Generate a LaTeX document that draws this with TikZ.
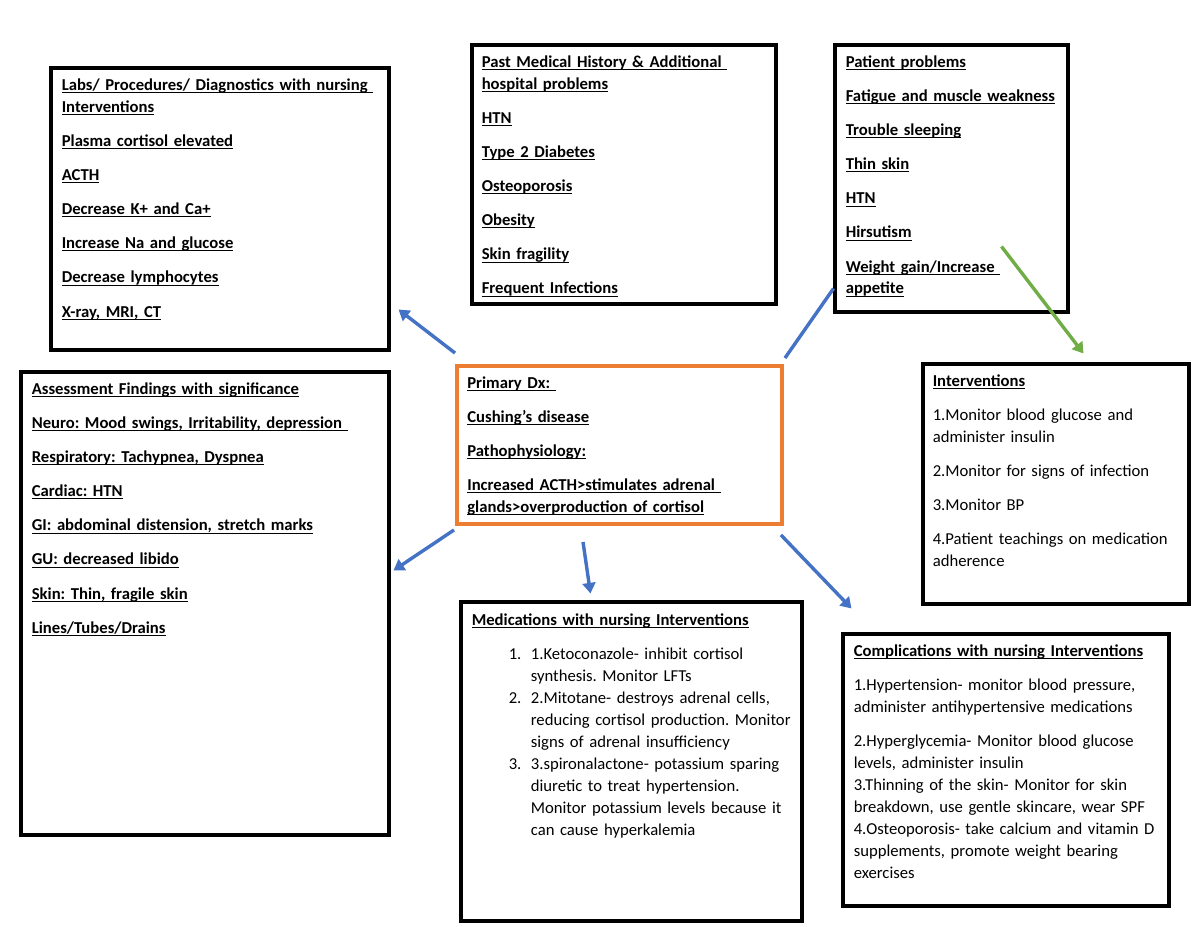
\documentclass[tikz,border=0pt]{standalone}
\usepackage{fontspec}
\setmainfont{Carlito}
\frenchspacing
\usetikzlibrary{arrows.meta,fit}
\definecolor{wordblue}{HTML}{4472C4}
\definecolor{wordgreen}{HTML}{70AD47}
\definecolor{wordorange}{HTML}{ED7D31}
\newcommand{\undl}[1]{\setbox0\hbox{#1}\leavevmode\rlap{\rule[-1.7pt]{\wd0}{0.6pt}}\box0}

\begin{document}
\begin{tikzpicture}[x=0.66pt,y=-0.66pt]

  \useasboundingbox (0,0) rectangle (1200,927);

  \begin{scope}[every node/.style={draw, line width=2pt, inner sep=0pt}]
    \node[fit={(51,68) (389,350)}]   (labs)    {};
    \node[fit={(472,45) (776,304)}]  (pmh)     {};
    \node[fit={(835,45) (1068,312)}] (patient) {};
    \node[fit={(21,372) (389,835)}]  (assess)  {};
    \node[fit={(457,366) (782,524)}, draw=wordorange, line width=2.6pt] (dx) {};
    \node[fit={(923,364) (1189,604)}] (interv) {};
    \node[fit={(461,602) (802,921)}]  (meds)   {};
    \node[fit={(843,634) (1169,906)}] (compl)  {};
  \end{scope}

  \begin{scope}[every node/.style={anchor=base west, inner sep=0pt,
      font=\fontsize{11}{14.5}\selectfont,
      execute at begin node={\setlength{\parskip}{8pt}}}]
    \node[text width=211pt] (labstxt) at ([shift={(12,24)}]labs.north west) {\bfseries
      \undl{Labs/ Procedures/ Diagnostics with nursing }\\\undl{Interventions}\par
      \undl{Plasma cortisol elevated}\par
      \undl{ACTH}\par
      \undl{Decrease K+ and Ca+}\par
      \undl{Increase Na and glucose}\par
      \undl{Decrease lymphocytes}\par
      \undl{X-ray, MRI, CT}};
    \node[text width=192pt] (pmhtxt) at ([shift={(11,24)}]pmh.north west) {\bfseries
      \undl{Past Medical History \& Additional }\\\undl{hospital problems}\par
      \undl{HTN}\par
      \undl{Type 2 Diabetes}\par
      \undl{Osteoporosis}\par
      \undl{Obesity}\par
      \undl{Skin fragility}\par
      \undl{Frequent Infections}};
    \node[text width=152pt] (patienttxt) at ([shift={(12,24)}]patient.north west) {\bfseries
      \undl{Patient problems}\par
      \undl{Fatigue and muscle weakness}\par
      \undl{Trouble sleeping}\par
      \undl{Thin skin}\par
      \undl{HTN}\par
      \undl{Hirsutism}\par
      \undl{Weight gain/Increase }\\\undl{appetite}};
    \node[text width=231pt] (assesstxt) at ([shift={(12,24)}]assess.north west) {\bfseries
      \undl{Assessment Findings with significance}\par
      \undl{Neuro: Mood swings, Irritability, depression }\par
      \undl{Respiratory: Tachypnea, Dyspnea}\par
      \undl{Cardiac: HTN}\par
      \undl{GI: abdominal distension, stretch marks}\par
      \undl{GU: decreased libido}\par
      \undl{Skin: Thin, fragile skin}\par
      \undl{Lines/Tubes/Drains}};
    \node[text width=198pt] (dxtxt) at ([shift={(12,24)}]dx.north west) {\bfseries
      \undl{Primary Dx: }\par
      \undl{Cushing’s disease}\par
      \undl{Pathophysiology:}\par
      \undl{Increased ACTH>stimulates adrenal }\\\undl{glands>overproduction of cortisol}};
    \node[text width=165pt] (intervtxt) at ([shift={(11,24)}]interv.north west) {
      \textbf{\undl{Interventions}}\par
      1.Monitor blood glucose and\\administer insulin\par
      2.Monitor for signs of infection\par
      3.Monitor BP\par
      4.Patient teachings on medication\\adherence};
    \node[text width=218pt] (medstxt) at ([shift={(12,25)}]meds.north west) {
      \textbf{\undl{Medications with nursing Interventions}}\par
      {\leftskip=39pt
      \noindent\llap{\makebox[14.6pt][l]{1.}}1.Ketoconazole- inhibit cortisol\\synthesis. Monitor LFTs\par
      \setlength{\parskip}{0pt}%
      \noindent\llap{\makebox[14.6pt][l]{2.}}2.Mitotane- destroys adrenal cells,\\reducing cortisol production. Monitor\\signs of adrenal insufficiency\par
      \noindent\llap{\makebox[14.6pt][l]{3.}}3.spironalactone- potassium sparing\\diuretic to treat hypertension.\\Monitor potassium levels because it\\can cause hyperkalemia\par}};
    \node[text width=208pt] (compltxt) at ([shift={(12,24)}]compl.north west) {
      \textbf{\undl{Complications with nursing Interventions}}\par
      1.Hypertension- monitor blood pressure,\\administer antihypertensive medications\par
      2.Hyperglycemia- Monitor blood glucose\\levels, administer insulin\\
      3.Thinning of the skin- Monitor for skin\\breakdown, use gentle skincare, wear SPF\\
      4.Osteoporosis- take calcium and vitamin D\\supplements, promote weight bearing\\exercises};
  \end{scope}

  \begin{scope}[every path/.style={draw=wordblue, line width=2.25pt}]
    \path[-{Triangle[length=7pt,width=8.5pt]}] ([shift={(0,-11)}]dx.north west) -- ([shift={(8,-42)}]labs.south east);
    \path ([shift={(1,-6)}]dx.north east) -- ([shift={(0,-25)}]patient.south west);
    \path[-{Triangle[length=7pt,width=8.5pt]}] ([shift={(-1,4)}]dx.south west) -- ([shift={(3,200)}]assess.north east);
    \path[-{Triangle[length=7pt,width=8.5pt]}] ([shift={(128,16)}]dx.south west) -- ([shift={(131,-7)}]meds.north west);
    \path[-{Triangle[length=7pt,width=8.5pt]}] ([shift={(-3,9)}]dx.south east) -- ([shift={(10,-24)}]compl.north west);
    \path[draw=wordgreen, -{Triangle[length=7pt,width=8.5pt]}] ([shift={(-68,-67)}]patient.south east) -- ([shift={(162,-9)}]interv.north west);
  \end{scope}

\end{tikzpicture}
\end{document}
